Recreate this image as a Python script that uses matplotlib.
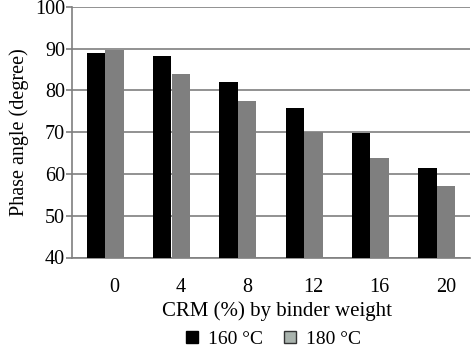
import matplotlib
matplotlib.use("Agg")
import matplotlib.pyplot as plt
import numpy as np
from matplotlib.lines import Line2D

categories = ["0", "4", "8", "12", "16", "20"]
series_160 = [89.0, 88.3, 81.9, 75.7, 69.8, 61.3]
series_180 = [89.6, 83.8, 77.5, 70.0, 63.9, 57.2]
series_names = ["160 °C", "180 °C"]
yticks = [40, 50, 60, 70, 80, 90, 100]

plt.rcParams['font.family'] = ['Liberation Serif', 'DejaVu Serif']

W, H = 474, 348
fig = plt.figure(figsize=(W / 100, H / 100), dpi=100)
ax = fig.add_axes([72 / W, (H - 257.5) / H, (470 - 72) / W, (257.5 - 6.7) / H])

x = np.arange(len(categories))
bw = 0.28
ax.bar(x - bw / 2, series_160, width=bw, color="black", zorder=3)
ax.bar(x + bw / 2, series_180, width=bw, color="#7f7f7f", zorder=3)

ax.set_xlim(-0.5, len(categories) - 0.5)
ax.set_ylim(40, 100)
ax.set_yticks(yticks)
ax.set_yticklabels([str(v) for v in yticks], fontsize=14.5)
ax.set_xticks(x + 0.14)
ax.set_xticklabels(categories, fontsize=14.5)
ax.tick_params(axis="x", length=0, pad=15)
ax.tick_params(axis="y", length=4, width=1.2, color="#7f7f7f", pad=1)
ax.grid(axis="y", color="#7f7f7f", linewidth=1.2, zorder=0)
for s in ["top", "right"]:
    ax.spines[s].set_visible(False)
for s in ["left", "bottom"]:
    ax.spines[s].set_color("#7f7f7f")
    ax.spines[s].set_linewidth(1.2)

ax.set_ylabel("Phase angle (degree)", fontsize=14.5, labelpad=4)
ax.set_xlabel("CRM (%) by binder weight", fontsize=15)
ax.xaxis.set_label_coords(0.515, -0.175)

handles = [
    Line2D([], [], marker="s", linestyle="none", markersize=8.5,
           markerfacecolor="black", markeredgecolor="black"),
    Line2D([], [], marker="s", linestyle="none", markersize=8.5,
           markerfacecolor="#a9b3ad", markeredgecolor="#333333", markeredgewidth=1.0),
]
fig.legend(handles, series_names, loc="center", ncol=2,
           bbox_to_anchor=(272 / W, 1 - 339 / H), frameon=False,
           fontsize=14, handlelength=0.9, handletextpad=0.4, columnspacing=0.9,
           borderpad=0.1)

fig.savefig("out.png", dpi=100)
